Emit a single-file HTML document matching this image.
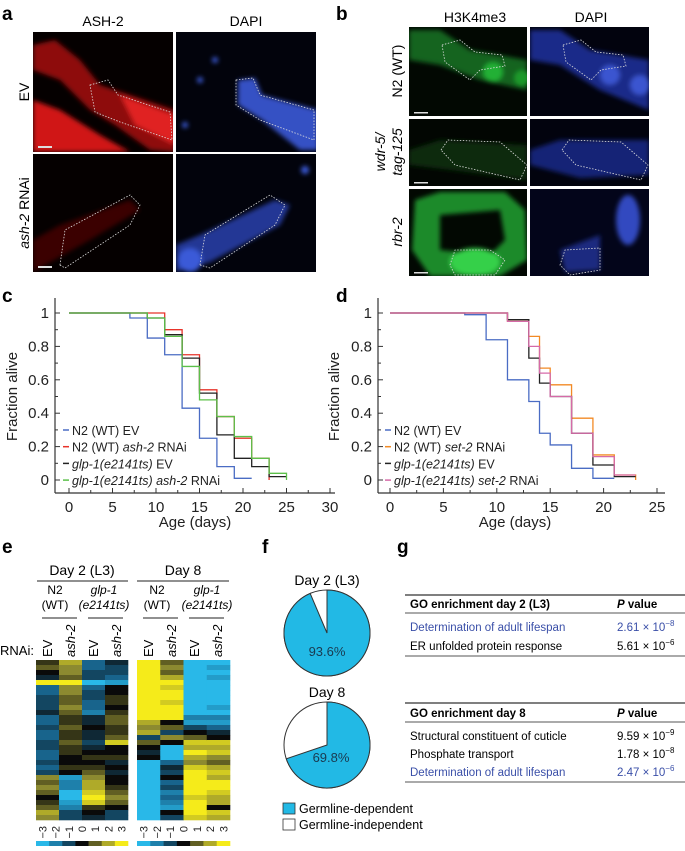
<!DOCTYPE html>
<html><head><meta charset="utf-8">
<style>
body{margin:0;background:#fff;width:685px;height:851px;overflow:hidden;font-family:"Liberation Sans",Arial,sans-serif;}
svg{position:absolute;left:0;top:0}
</style></head>
<body>
<svg id="fig" width="685" height="851" viewBox="0 0 685 851" xmlns="http://www.w3.org/2000/svg" font-family="Liberation Sans, Arial, sans-serif">
<defs>
<filter id="blur" x="-20%" y="-20%" width="140%" height="140%"><feGaussianBlur stdDeviation="2.5"/></filter>
<clipPath id="cA1"><rect x="33" y="32" width="140" height="120"/></clipPath>
<clipPath id="cA2"><rect x="176" y="32" width="140" height="120"/></clipPath>
<clipPath id="cA3"><rect x="33" y="154" width="140" height="118"/></clipPath>
<clipPath id="cA4"><rect x="176" y="154" width="140" height="118"/></clipPath>
<clipPath id="cB1"><rect x="409" y="27" width="118" height="89"/></clipPath>
<clipPath id="cB2"><rect x="530" y="27" width="119" height="89"/></clipPath>
<clipPath id="cB3"><rect x="409" y="119" width="118" height="67"/></clipPath>
<clipPath id="cB4"><rect x="530" y="119" width="119" height="67"/></clipPath>
<clipPath id="cB5"><rect x="409" y="189" width="118" height="87"/></clipPath>
<clipPath id="cB6"><rect x="530" y="189" width="119" height="87"/></clipPath>
</defs>

<!-- Panel a -->
<text x="2" y="20" font-size="19" font-weight="bold">a</text>
<text x="103" y="26" font-size="14" text-anchor="middle">ASH-2</text>
<text x="246" y="26" font-size="14" text-anchor="middle">DAPI</text>
<text transform="translate(29,92) rotate(-90)" font-size="14" text-anchor="middle">EV</text>
<text transform="translate(29,213) rotate(-90)" font-size="14" text-anchor="middle"><tspan font-style="italic">ash-2</tspan> RNAi</text>
<rect x="33" y="32" width="140" height="120" fill="#050000"/>
<g clip-path="url(#cA1)" filter="url(#blur)">
<path d="M33,45 L55,40 L80,60 L100,85 L130,95 L175,110 L175,152 L150,150 L115,125 L90,110 L60,80 L33,70 Z" fill="#b01010" opacity="0.8"/>
<path d="M33,100 L60,110 L100,135 L130,152 L33,152 Z" fill="#d01818"/>
<path d="M120,95 L175,115 L175,145 L135,125 Z" fill="#e02020"/>
</g>
<rect x="176" y="32" width="140" height="120" fill="#02030c"/>
<g clip-path="url(#cA2)" filter="url(#blur)">
<path d="M238,80 L255,78 L262,95 L318,110 L318,150 L300,150 L262,120 L238,105 Z" fill="#3a5ad8" opacity="0.9"/>
<circle cx="200" cy="80" r="3" fill="#3a5ad8"/><circle cx="215" cy="60" r="3" fill="#3a5ad8"/><circle cx="185" cy="125" r="3" fill="#3a5ad8"/>
</g>
<rect x="33" y="154" width="140" height="118" fill="#050000"/>
<g clip-path="url(#cA3)" filter="url(#blur)"><path d="M33,240 L60,225 L130,200 L140,210 L90,240 L33,272 Z" fill="#3a0606"/></g>
<rect x="176" y="154" width="140" height="118" fill="#02030c"/>
<g clip-path="url(#cA4)" filter="url(#blur)">
<path d="M176,245 L200,235 L275,200 L290,205 L280,225 L210,262 L176,272 Z" fill="#2a44b8" opacity="0.8"/>
<circle cx="190" cy="260" r="12" fill="#3a5ad8"/><circle cx="305" cy="170" r="4" fill="#3a5ad8"/>
</g>
<path d="M90,85 L108,80 L118,95 L170,112 L172,140 L120,122 L95,112 Z" fill="none" stroke="#ddd" stroke-dasharray="1.5,1.5" stroke-width="0.8"/>
<path d="M236,80 L253,78 L260,95 L314,110 L314,140 L260,120 L236,105 Z" fill="none" stroke="#ddd" stroke-dasharray="1.5,1.5" stroke-width="0.8"/>
<path d="M60,265 L65,230 L130,195 L140,205 L130,225 L65,268 Z" fill="none" stroke="#ddd" stroke-dasharray="1.5,1.5" stroke-width="0.8"/>
<path d="M200,265 L205,235 L270,195 L285,205 L275,225 L210,268 Z" fill="none" stroke="#ddd" stroke-dasharray="1.5,1.5" stroke-width="0.8"/>
<rect x="38" y="146" width="14" height="2" fill="#ddd"/><rect x="38" y="266" width="14" height="2" fill="#ddd"/>

<!-- Panel b -->
<text x="336" y="20" font-size="19" font-weight="bold">b</text>
<text x="475" y="22" font-size="14" text-anchor="middle">H3K4me3</text>
<text x="591" y="22" font-size="14" text-anchor="middle">DAPI</text>
<text transform="translate(402,71) rotate(-90)" font-size="14" text-anchor="middle">N2 (WT)</text>
<text transform="translate(385,152) rotate(-90)" font-size="14" text-anchor="middle" font-style="italic">wdr-5/</text>
<text transform="translate(402,152) rotate(-90)" font-size="14" text-anchor="middle" font-style="italic">tag-125</text>
<text transform="translate(402,232) rotate(-90)" font-size="14" text-anchor="middle" font-style="italic">rbr-2</text>
<rect x="409" y="27" width="118" height="89" fill="#020802"/>
<g clip-path="url(#cB1)" filter="url(#blur)">
<path d="M409,30 L440,30 L470,50 L527,60 L527,90 L480,80 L440,65 L409,60 Z" fill="#157a25" opacity="0.8"/>
<circle cx="493" cy="72" r="10" fill="#22b035"/><circle cx="522" cy="78" r="8" fill="#1a9a2c"/>
</g>
<rect x="530" y="27" width="119" height="89" fill="#02030e"/>
<g clip-path="url(#cB2)" filter="url(#blur)">
<path d="M530,30 L560,30 L590,50 L649,60 L649,110 L600,90 L560,65 L530,60 Z" fill="#2035a8" opacity="0.8"/>
<circle cx="610" cy="75" r="10" fill="#3a55d0"/><circle cx="640" cy="85" r="10" fill="#3a55d0"/>
</g>
<rect x="409" y="119" width="118" height="67" fill="#020602"/>
<g clip-path="url(#cB3)" filter="url(#blur)"><path d="M409,150 L440,140 L527,145 L527,180 L450,170 L409,165 Z" fill="#0a2a0e"/></g>
<rect x="530" y="119" width="119" height="67" fill="#02030e"/>
<g clip-path="url(#cB4)" filter="url(#blur)"><path d="M530,150 L560,140 L649,140 L649,175 L580,178 L530,165 Z" fill="#1a2a90" opacity="0.8"/></g>
<rect x="409" y="189" width="118" height="87" fill="#020802"/>
<g clip-path="url(#cB5)" filter="url(#blur)">
<path d="M415,200 L440,192 L505,192 L525,210 L527,260 L500,276 L430,276 L412,250 Z M440,215 L440,250 L490,255 L505,240 L500,210 Z" fill="#1d8a2c" fill-rule="evenodd"/>
<ellipse cx="475" cy="262" rx="25" ry="14" fill="#35d048"/>
</g>
<rect x="530" y="189" width="119" height="87" fill="#03051a"/>
<g clip-path="url(#cB6)" filter="url(#blur)">
<ellipse cx="628" cy="220" rx="12" ry="25" fill="#3048c0"/>
<path d="M560,250 L600,235 L600,270 L565,272 Z" fill="#1a2a80"/>
</g>
<rect x="414" y="112" width="14" height="1.5" fill="#ddd"/><rect x="414" y="182" width="14" height="1.5" fill="#ddd"/><rect x="414" y="272" width="14" height="1.5" fill="#ddd"/>
<path d="M442,45 L460,40 L475,52 L502,55 L505,66 L480,70 L470,80 L445,62 Z" fill="none" stroke="#ddd" stroke-dasharray="1.5,1.5" stroke-width="0.8"/>
<path d="M563,45 L581,40 L596,52 L623,55 L626,66 L601,70 L591,80 L566,62 Z" fill="none" stroke="#ddd" stroke-dasharray="1.5,1.5" stroke-width="0.8"/>
<path d="M441,150 L448,140 L500,142 L527,165 L520,180 L455,165 Z" fill="none" stroke="#ddd" stroke-dasharray="1.5,1.5" stroke-width="0.8"/>
<path d="M562,150 L569,140 L621,142 L648,165 L641,180 L576,165 Z" fill="none" stroke="#ddd" stroke-dasharray="1.5,1.5" stroke-width="0.8"/>
<path d="M450,265 L455,250 L490,250 L505,260 L495,275 L455,275 Z" fill="none" stroke="#ddd" stroke-dasharray="1.5,1.5" stroke-width="0.8"/>
<path d="M560,265 L565,250 L600,248 L600,270 L570,275 Z" fill="none" stroke="#ddd" stroke-dasharray="1.5,1.5" stroke-width="0.8"/>

<g id="panelC"></g>
<g id="panelD"></g>
<text x="2" y="302" font-size="19" font-weight="bold">c</text>
<text x="336" y="302" font-size="19" font-weight="bold">d</text>

<!-- Panel e -->
<text x="2" y="553" font-size="19" font-weight="bold">e</text>
<text x="82" y="575" font-size="14" text-anchor="middle">Day 2 (L3)</text>
<text x="183" y="575" font-size="14" text-anchor="middle">Day 8</text>
<line x1="37" y1="581" x2="128" y2="581" stroke="#222" stroke-width="1"/>
<line x1="137" y1="581" x2="229" y2="581" stroke="#222" stroke-width="1"/>
<g font-size="12" text-anchor="middle">
<text x="55" y="594">N2</text><text x="55" y="609">(WT)</text>
<text x="104" y="594" font-style="italic">glp-1</text><text x="104" y="609" font-style="italic">(e2141ts)</text>
<text x="157" y="594">N2</text><text x="157" y="609">(WT)</text>
<text x="207" y="594" font-style="italic">glp-1</text><text x="207" y="609" font-style="italic">(e2141ts)</text>
</g>
<g stroke="#222" stroke-width="1">
<line x1="42" y1="618" x2="77" y2="618"/><line x1="88" y1="618" x2="123" y2="618"/>
<line x1="143" y1="618" x2="178" y2="618"/><line x1="189" y1="618" x2="224" y2="618"/>
</g>
<text x="0" y="655" font-size="13">RNAi:</text>
<g font-size="13">
<text transform="translate(52,657) rotate(-90)">EV</text>
<text transform="translate(75,657) rotate(-90)" font-style="italic">ash-2</text>
<text transform="translate(98,657) rotate(-90)">EV</text>
<text transform="translate(121,657) rotate(-90)" font-style="italic">ash-2</text>
<text transform="translate(153,657) rotate(-90)">EV</text>
<text transform="translate(176,657) rotate(-90)" font-style="italic">ash-2</text>
<text transform="translate(199,657) rotate(-90)">EV</text>
<text transform="translate(222,657) rotate(-90)" font-style="italic">ash-2</text>
</g>
<g id="heat"></g>

<!-- Panel f -->
<text x="262" y="553" font-size="19" font-weight="bold">f</text>
<text x="327" y="585" font-size="14" text-anchor="middle">Day 2 (L3)</text>
<text x="327" y="697" font-size="14" text-anchor="middle">Day 8</text>
<g id="pies"></g>
<rect x="283" y="803" width="12" height="11" fill="#22b9e5" stroke="#333" stroke-width="0.8"/>
<text x="299" y="813" font-size="12.5">Germline-dependent</text>
<rect x="283" y="819" width="12" height="11" fill="#fff" stroke="#333" stroke-width="0.8"/>
<text x="299" y="829" font-size="12.5">Germline-independent</text>

<!-- Panel g -->
<text x="397" y="553" font-size="19" font-weight="bold">g</text>
<g font-size="11.5">
<line x1="405" y1="595" x2="685" y2="595" stroke="#555" stroke-width="1.5"/>
<text x="410" y="608" font-weight="bold">GO enrichment day 2 (L3)</text>
<text x="617" y="608" font-weight="bold"><tspan font-style="italic">P</tspan> value</text>
<line x1="405" y1="613" x2="685" y2="613" stroke="#555" stroke-width="1"/>
<text x="410" y="631" fill="#3a4fa8">Determination of adult lifespan</text>
<text x="617" y="631" fill="#3a4fa8">2.61 × 10<tspan font-size="8" dy="-5">−8</tspan></text>
<text x="410" y="650">ER unfolded protein response</text>
<text x="617" y="650">5.61 × 10<tspan font-size="8" dy="-5">−6</tspan></text>
<line x1="405" y1="656" x2="685" y2="656" stroke="#555" stroke-width="1"/>
</g>
<g font-size="11.5">
<line x1="405" y1="703" x2="685" y2="703" stroke="#555" stroke-width="1.5"/>
<text x="410" y="717" font-weight="bold">GO enrichment day 8</text>
<text x="617" y="717" font-weight="bold"><tspan font-style="italic">P</tspan> value</text>
<line x1="405" y1="722" x2="685" y2="722" stroke="#555" stroke-width="1"/>
<text x="410" y="740">Structural constituent of cuticle</text>
<text x="617" y="740">9.59 × 10<tspan font-size="8" dy="-5">−9</tspan></text>
<text x="410" y="758">Phosphate transport</text>
<text x="617" y="758">1.78 × 10<tspan font-size="8" dy="-5">−8</tspan></text>
<text x="410" y="776" fill="#3a4fa8">Determination of adult lifespan</text>
<text x="617" y="776" fill="#3a4fa8">2.47 × 10<tspan font-size="8" dy="-5">−6</tspan></text>
<line x1="405" y1="782" x2="685" y2="782" stroke="#555" stroke-width="1"/>
</g>
</svg>

<script>
// ---- Survival data (panel c) ----
const cTimesBlue=[0,7,9,11,13,15,17,19,21];
const cValsBlue=[1,0.97,0.85,0.75,0.43,0.25,0.08,0.01,0.01];
const cTimesRed=[0,11,13,15,17,19,21,23,23];
const cValsRed=[1,0.9,0.75,0.54,0.38,0.25,0.13,0.0,0.0];
const cTimesBlack=[0,9,11,13,15,17,19,21,23,25];
const cValsBlack=[1,0.97,0.87,0.73,0.52,0.27,0.13,0.08,0.02,0.02];
const cTimesGreen=[0,9,11,13,15,17,19,21,23,25];
const cValsGreen=[1,0.97,0.86,0.68,0.48,0.38,0.26,0.13,0.04,0.0];
const cXTicks=[0,5,10,15,20,25,30];
const yTicks=[0,0.2,0.4,0.6,0.8,1];
const yTickLabels=["0","0.2","0.4","0.6","0.8","1"];
// ---- Survival data (panel d) ----
const dTimesBlue=[0,7,9,11,13,14,15,17,19,21];
const dValsBlue=[1,0.99,0.84,0.6,0.47,0.28,0.21,0.07,0.01,0.01];
const dTimesOrange=[0,11,13,14,15,17,19,21,23];
const dValsOrange=[1,0.95,0.86,0.67,0.57,0.37,0.15,0.03,0.0];
const dTimesBlack=[0,11,13,14,15,17,19,21,23];
const dValsBlack=[1,0.96,0.73,0.58,0.5,0.28,0.09,0.02,0.02];
const dTimesPink=[0,11,13,14,15,17,19,21,23];
const dValsPink=[1,0.95,0.8,0.64,0.5,0.28,0.14,0.03,0.03];
const dXTicks=[0,5,10,15,20,25];
// ---- Heatmap data ----
const hmDay2EV=[0.5,1,0,-0.5,3,-1.5,-1.5,-1,-1,-1,-0.5,-1.5,-1.5,-1,-1.5,-1.5,-1,-1,-1.5,-1.5,-1,-1.5,-1,1.5,1,1.5,1,0,0.5,1,2,1.5];
const hmDay2Ash=[2,1.5,1.5,1,3,1.5,1.5,1,1,1.5,1,0.5,0.5,1,0.5,0.5,1,0.5,0.5,0,0,0.5,0,-2.5,-2,-2,-3,-3,-2.5,-2,-1,-1];
const hmDay2GlpEV=[-1.5,-1.5,-1,-1,-3,-1.5,-1,-1,-1.5,-1.5,-2,-0.5,-0.5,0,-0.5,-0.5,-1,-0.5,0,0.5,0,0.5,1,1.5,2,2,2.5,3,2.5,0.5,0,-0.5];
const hmDay2GlpAsh=[-0.5,-1,-1,-1.5,-2.5,0,0,0.5,0.5,0,0.5,1,1,0.5,0.5,1,2.5,0,0,0.5,-0.5,0,-0.5,0,0,0.5,1,1.5,1,0,-1,-1];
const hmDay8EV=[3,3,3,3,3,3,3,3,3,3,3,3,2,1.5,2,-1,1,0,-0.5,0,-3,-3,-3,-3,-3,-3,-3,-3,-3,-3,-3,-3];
const hmDay8Ash=[1,1.5,1,2,3,2.5,3,3,2.5,3,3,3,0,1,-1,1.5,0,-3,-3,-3,-1.5,-0.5,-1,0,-1.5,-1,-2,-1.5,-2,-2.5,0,-1];
const hmDay8GlpEV=[-3,-3,-3,-3,-3,-3,-3,-3,-3,-3,-3,-2,-2.5,-1,0,1,2.5,2,3,2,1.5,2.5,3,3,3,3,3,2.5,3,3,3,2.5];
const hmDay8GlpAsh=[-3,-2.5,-3,-2.5,-3,-3,-3,-3,-3,-2.5,-3,-2,-2.5,-1.5,-0.5,0,2.5,2,2.5,1.5,1,2,2.5,2,3,3,2.5,2,2,0,2.5,2];
const colorScaleLevels=[-3,-2,-1,0,1,2,3];
// ---- Pie data ----
const pieLabels=["Day 2 (L3)","Day 8"];
const pieDependent=[93.6,69.8];

const NS="http://www.w3.org/2000/svg";
function mk(tag,attrs,parent){const e=document.createElementNS(NS,tag);for(const k in attrs)e.setAttribute(k,attrs[k]);parent.appendChild(e);return e;}

function survival(g,opt){
  const sx=t=>opt.x0+(t-0)*opt.kx;
  const sy=v=>opt.y0-v*(opt.y0-opt.y1);
  const ax=mk('line',{x1:opt.ax,y1:opt.y1-15,x2:opt.ax,y2:opt.by,stroke:'#333','stroke-width':1.2},g);
  
  
  const bx=mk('line',{x1:opt.ax,y1:opt.by,x2:opt.xend,y2:opt.by,stroke:'#333','stroke-width':1.2},g);
  
  
  for(let v=0;v<=1.001;v+=0.1){
    const major=Math.abs(v*5-Math.round(v*5))<0.01;
    mk('line',{x1:opt.ax,y1:sy(v),x2:opt.ax+(major?5:3),y2:sy(v),stroke:'#333','stroke-width':1},g);
  }
  yTicks.forEach((v,i)=>{
    const t=mk('text',{x:opt.ax-6,y:sy(v)+5,'font-size':15,'text-anchor':'end',fill:'#222'},g);
    t.textContent=yTickLabels[i];
    
    
  });
  const xmax=opt.xt[opt.xt.length-1];
  for(let t=0;t<=xmax+0.01;t+=2.5){
    const major=t%5===0;
    mk('line',{x1:sx(t),y1:opt.by,x2:sx(t),y2:opt.by-(major?5:3),stroke:'#333','stroke-width':1},g);
  }
  opt.xt.forEach(t=>{
    const e=mk('text',{x:sx(t),y:opt.by+19,'font-size':15,'text-anchor':'middle',fill:'#222'},g);
    e.textContent=String(t);
    
    
  });
  const xl=mk('text',{x:opt.xlab,y:opt.by+34,'font-size':15,'text-anchor':'middle',fill:'#222'},g);
  xl.textContent='Age (days)';
  
  
  const yl=mk('text',{transform:`translate(${opt.ylx},${(opt.y0+opt.y1)/2}) rotate(-90)`,'font-size':15,'text-anchor':'middle',fill:'#222'},g);
  yl.textContent='Fraction alive';
  
  
  opt.series.forEach(s=>{
    let d=`M${sx(s.t[0])},${sy(s.v[0])}`;
    for(let i=1;i<s.t.length;i++){d+=`H${sx(s.t[i])}V${sy(s.v[i])}`;}
    const p=mk('path',{d:d,fill:'none',stroke:s.c,'stroke-width':1.3},g);
    
    
  });
  opt.series.forEach((s,i)=>{
    const y=434+i*16.7;
    mk('line',{x1:opt.lx,y1:y-4,x2:opt.lx+6,y2:y-4,stroke:s.c,'stroke-width':1.5},g);
    const t=mk('text',{x:opt.lx+9,y:y+1,'font-size':12.5,fill:'#222'},g);
    t.innerHTML=s.label;
    
    
  });
}

survival(document.getElementById('panelC'),{x0:69,kx:(330-69)/30,y0:480,y1:313,ax:55,by:493,xend:335,xt:cXTicks,xlab:195,ylx:17,lx:63,
  series:[
   {id:'n2-ev',t:cTimesBlue,v:cValsBlue,c:'#4a6cc4',label:'N2 (WT) EV'},
   {id:'n2-ash2',t:cTimesRed,v:cValsRed,c:'#e8332a',label:'N2 (WT) <tspan font-style="italic">ash-2</tspan> RNAi'},
   {id:'glp1-ev',t:cTimesBlack,v:cValsBlack,c:'#222',label:'<tspan font-style="italic">glp-1(e2141ts)</tspan> EV'},
   {id:'glp1-ash2',t:cTimesGreen,v:cValsGreen,c:'#5cc04a',label:'<tspan font-style="italic">glp-1(e2141ts) ash-2</tspan> RNAi'}]});
survival(document.getElementById('panelD'),{x0:390,kx:(657-390)/25,y0:480,y1:313,ax:378,by:493,xend:665,xt:dXTicks,xlab:515,ylx:339,lx:385,
  series:[
   {id:'n2-ev',t:dTimesBlue,v:dValsBlue,c:'#4a6cc4',label:'N2 (WT) EV'},
   {id:'n2-set2',t:dTimesOrange,v:dValsOrange,c:'#f28a25',label:'N2 (WT) <tspan font-style="italic">set-2</tspan> RNAi'},
   {id:'glp1-ev',t:dTimesBlack,v:dValsBlack,c:'#222',label:'<tspan font-style="italic">glp-1(e2141ts)</tspan> EV'},
   {id:'glp1-set2',t:dTimesPink,v:dValsPink,c:'#d66aa8',label:'<tspan font-style="italic">glp-1(e2141ts) set-2</tspan> RNAi'}]});

function hcol(v){
  const stops=[[-3,[41,184,232]],[-1.5,[24,100,140]],[0,[10,10,10]],[1.5,[140,138,48]],[3,[245,235,26]]];
  v=Math.max(-3,Math.min(3,v));
  for(let i=0;i<stops.length-1;i++){const a=stops[i],b=stops[i+1];
    if(v<=b[0]){const f=(v-a[0])/(b[0]-a[0]);const c=a[1].map((x,j)=>Math.round(x+(b[1][j]-x)*f));return `rgb(${c})`;}}
  return 'rgb(245,235,26)';
}
const heat=document.getElementById('heat');
const blocks=[{x:36,w:92,cols:[hmDay2EV,hmDay2Ash,hmDay2GlpEV,hmDay2GlpAsh]},{x:137,w:93,cols:[hmDay8EV,hmDay8Ash,hmDay8GlpEV,hmDay8GlpAsh]}];
const hTop=660,hBot=820;
blocks.forEach((b,bi)=>{
  const cw=b.w/4;
  b.cols.forEach((col,ci)=>{
    const rh=(hBot-hTop)/col.length;
    col.forEach((v,ri)=>{
      const r=mk('rect',{x:b.x+ci*cw,y:hTop+ri*rh,width:cw+0.3,height:rh+0.3,fill:hcol(v)},heat);
      
      
    });
  });
  const sw=b.w/colorScaleLevels.length;
  colorScaleLevels.forEach((lv,i)=>{
    const r=mk('rect',{x:b.x+i*sw,y:841,width:sw+0.3,height:5,fill:hcol(lv)},heat);
    
    
    const t=mk('text',{transform:`translate(${b.x+i*sw+sw/2+4},${826}) rotate(-90)`,'font-size':11,'text-anchor':'end',fill:'#222'},heat);
    t.textContent=lv<0?'\u2212'+(-lv):String(lv);
    
    
  });
});

const pies=document.getElementById('pies');
const pieCenters=[[327,633],[327,745]];
pieDependent.forEach((p,i)=>{
  const [cx,cy]=pieCenters[i];const r=43;
  mk('circle',{cx:cx,cy:cy,r:r,fill:'#fff',stroke:'#333','stroke-width':1},pies);
  const a=p/100*2*Math.PI;
  const ex=cx+r*Math.sin(a),ey=cy-r*Math.cos(a);
  const large=p>50?1:0;
  const s=mk('path',{d:`M${cx},${cy}L${cx},${cy-r}A${r},${r} 0 ${large} 1 ${ex},${ey}Z`,fill:'#22b9e5',stroke:'#333','stroke-width':1},pies);
  
  
  const t=mk('text',{x:cx+(i===0?0:4),y:cy+(i===0?23:17),'font-size':13,'text-anchor':'middle',fill:'#1a3a50'},pies);
  t.textContent=p.toFixed(1)+'%';
  
  
});
</script>
</body></html>
